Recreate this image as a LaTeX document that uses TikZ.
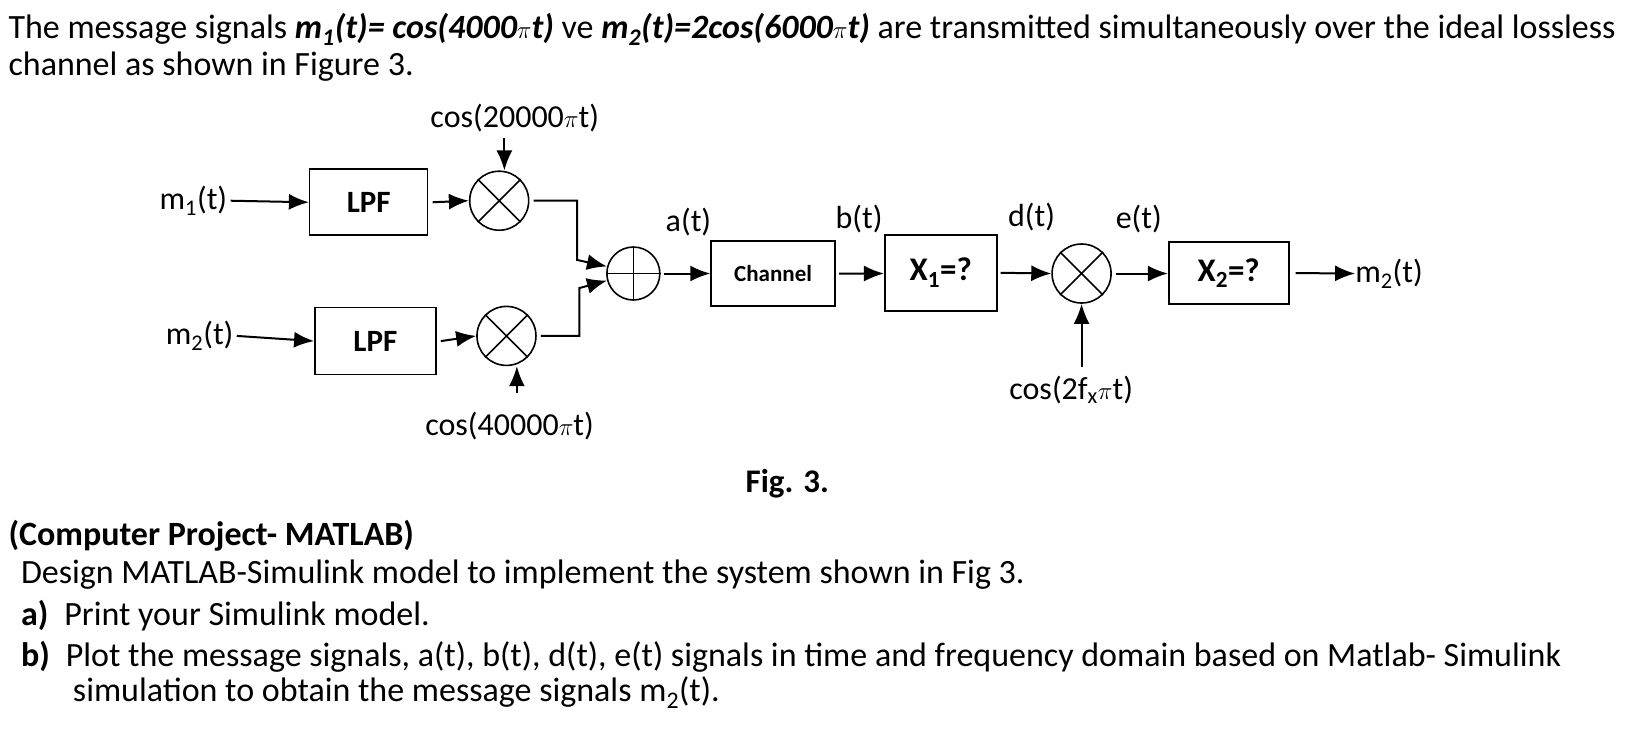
\documentclass[tikz,border=0pt]{standalone}
\usepackage{fontspec}
\setmainfont{Carlito}
\usetikzlibrary{arrows.meta}
\begin{document}
\begin{tikzpicture}[x=1.04pt,y=-1.04pt,
  every node/.style={inner sep=0pt,font=\fontsize{32}{36}\selectfont},
  blk/.style={draw,line width=1.6pt,rectangle,anchor=north west},
  mix/.style={draw,line width=1.6pt,circle,minimum size=59pt},
  sig/.style={line width=2pt,-{Latex[length=20pt,width=16pt]}},
  txt/.style={anchor=west,font=\fontsize{34}{38}\selectfont}]
\useasboundingbox[fill=white] (0,0) rectangle (1576,711.5);
% heading text
\node[txt] (t1) at (8,28) {The message signals \textbf{\textit{m\textsubscript{1}(t)= cos(4000$\pi$t)}} ve \textbf{\textit{m\textsubscript{2}(t)=2cos(6000$\pi$t)}} are transmitted simultaneously over the ideal lossless};
\node[txt] (t2) at (8,64) {channel as shown in Figure 3.};
% blocks
\node[blk,minimum width=118pt,minimum height=66pt,font=\fontsize{31}{34}\selectfont\bfseries] (lpf1) at (297,162) {LPF};
\node[blk,minimum width=121pt,minimum height=67pt,font=\fontsize{31}{34}\selectfont\bfseries] (lpf2) at (302,295) {LPF};
\node[mix] (x1) at (480,193) {};
\node[mix] (x2) at (487,323) {};
\node[draw,line width=1.6pt,circle,minimum size=53pt] (s) at (609,263) {};
\node[blk,minimum width=124pt,minimum height=65pt,font=\fontsize{23}{26}\selectfont\bfseries] (ch) at (683,231) {Channel};
\node[blk,minimum width=112pt,minimum height=76pt,font=\fontsize{33}{36}\selectfont\bfseries] (X1) at (850,225) {X\textsubscript{1}=?};
\node[mix] (x3) at (1040,263) {};
\node[blk,minimum width=120pt,minimum height=62pt,font=\fontsize{33}{36}\selectfont\bfseries] (X2) at (1123,232) {X\textsubscript{2}=?};
% crosses
\foreach \n in {x1,x2,x3}{
  \draw[line width=1.6pt] (\n.45) -- (\n.225) (\n.135) -- (\n.315);}
\draw[line width=1.6pt] (s.north) -- (s.south) (s.west) -- (s.east);
% labels
\node (m1) at (186,193) {m\textsubscript{1}(t)};
\node (m2) at (192,323) {m\textsubscript{2}(t)};
\node (c1) at (495,113) {cos(20000$\pi$t)};
\node (c2) at (490,410) {cos(40000$\pi$t)};
\node (c3) at (1030,375) {cos(2f\textsubscript{x}$\pi$t)};
\node (la) at (662,213) {a(t)};
\node (lb) at (826,211) {b(t)};
\node (ld) at (992,209) {d(t)};
\node (le) at (1095,211) {e(t)};
\node[anchor=west] (mo) at (1303,263) {m\textsubscript{2}(t)};
\node[font=\fontsize{33}{36}\selectfont\bfseries] (fig) at (757,465) {Fig. 3.};
% connectors
\coordinate (a1) at (485,133);
\coordinate (a2) at (497,378);
\coordinate (a3) at (1040,353);
\draw[sig] (m1.east) ++(3,0) -- (lpf1.west);
\draw[sig] (m2.east) ++(3,0) -- (lpf2.west);
\draw[sig] (lpf1.east) ++(4,0) -- (x1.west);
\draw[sig] (lpf2.east) ++(4,0) -- (x2.west);
\draw[sig] (a1) -- (x1.north -| a1);
\draw[sig] (a2) -- (x2.south -| a2);
\draw[sig] (a3) -- (x3.south);
\coordinate (j1) at (555,193);
\coordinate (j2) at (557,323);
\draw[sig] (x1.east) ++(4,0) -- (j1) -- (555,250) -- (s.165);
\draw[sig] (x2.east) ++(4,0) -- (j2) -- (557,277) -- (s.195);
\draw[sig] (s.east) ++(3,0) -- (ch.west |- s);
\draw[sig] (ch.east) ++(3,0) -- (X1.west |- s);
\draw[sig] (X1.east) ++(3,0) -- (x3.west);
\draw[sig] (x3.east) ++(4,0) -- (X2.west |- x3);
\draw[sig] (X2.east) ++(6,0) -- (mo.west);
% bottom text
\node[txt,font=\fontsize{34}{38}\selectfont\bfseries] (p0) at (8,515) {(Computer Project- MATLAB)};
\node[txt] (p1) at (20,553) {Design MATLAB-Simulink model to implement the system shown in Fig 3.};
\node[txt] (p2) at (20,592) {\textbf{a)}\hspace{16pt}Print your Simulink model.};
\node[txt] (p3) at (20,632) {\textbf{b)}\hspace{16pt}Plot the message signals, a(t), b(t), d(t), e(t) signals in time and frequency domain based on Matlab- Simulink};
\node[txt] (p4) at (70,666) {simulation to obtain the message signals m\textsubscript{2}(t).};
\end{tikzpicture}
\end{document}
